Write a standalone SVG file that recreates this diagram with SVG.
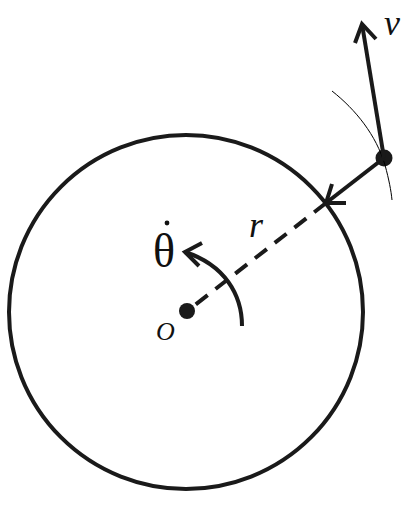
<svg xmlns="http://www.w3.org/2000/svg" width="411" height="506" viewBox="0 0 411 506">
<style>
.thick{fill:none;stroke:#1a1a1a;stroke-width:4;stroke-linecap:butt;stroke-linejoin:miter}
.lbl{font-family:"Liberation Serif","DejaVu Serif",serif;fill:#111}
</style>
<rect width="411" height="506" fill="#fff"/>
<g id="disk"><circle cx="186" cy="312" r="177" class="thick"/></g>
<g id="center"><circle cx="187" cy="311" r="8" fill="#1a1a1a"/></g>
<g id="particle"><circle cx="384" cy="158" r="8.5" fill="#1a1a1a"/></g>
<g id="path-arc"><path d="M332,91 C356,110 376,135 385,165 C389,180 391,190 392,200" fill="none" stroke="#000" stroke-width="1"/></g>
<g id="connectors">
<path class="thick" d="M384,158 L326,203"/>
<path class="thick" d="M332,184 L326,203 L346,203"/>
<path class="thick" d="M326,203 L195,305" stroke-dasharray="15 10"/>
<path class="thick" d="M384,158 L362,24"/>
<path class="thick" d="M355,43 L362,24 L376,39"/>
<path class="thick" d="M242,326 C242,295 225,265 185,252"/>
<path class="thick" d="M202,243 L185,252 L199,266"/>
</g>
<g id="labels">
<text class="lbl" x="153" y="267" font-size="46" transform="translate(153 267) scale(1 1.05) translate(-153 -267)">θ</text>
<circle cx="167" cy="223" r="2.4" fill="#111"/>
<text class="lbl" x="249" y="237" font-size="36" font-style="italic">r</text>
<text class="lbl" x="384" y="35" font-size="36" font-style="italic">v</text>
<text class="lbl" x="156" y="340" font-size="26" font-style="italic">O</text>
</g>
</svg>
